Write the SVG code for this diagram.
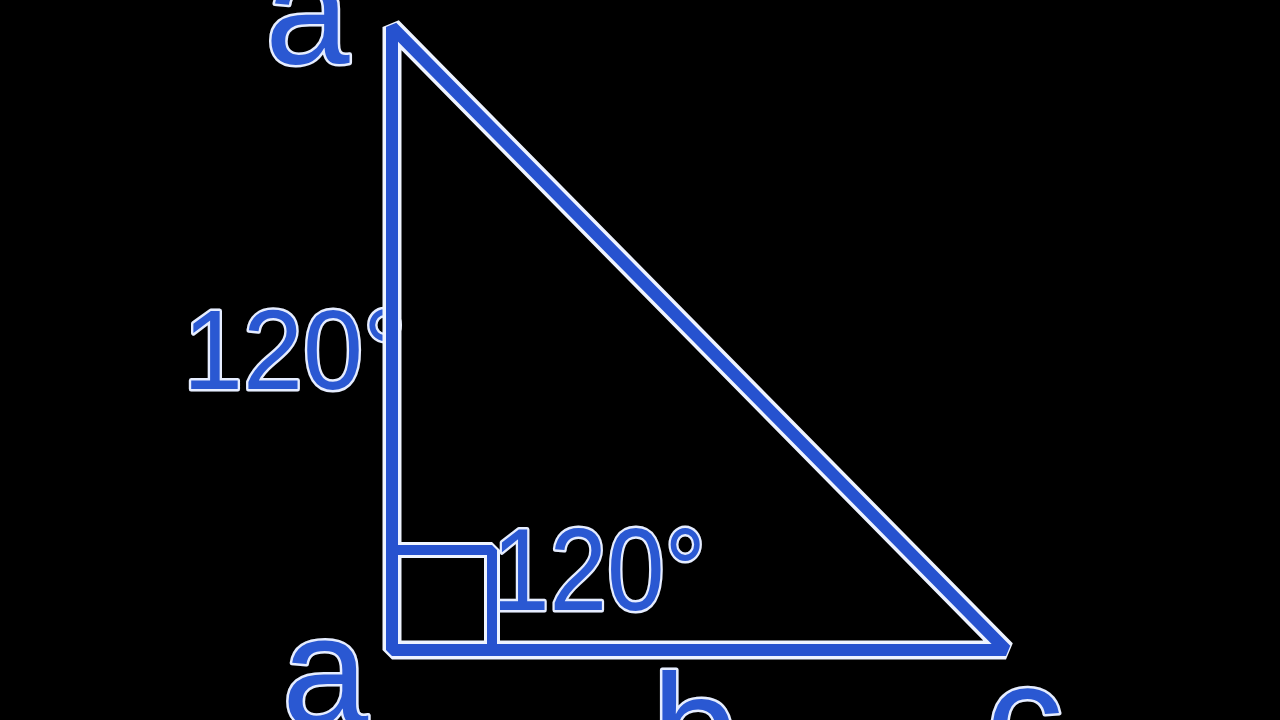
<svg xmlns="http://www.w3.org/2000/svg" width="1280" height="720" viewBox="0 0 1280 720">
<style>
.edge-w{fill:none;stroke:#eef3ff;stroke-linejoin:bevel}
.edge-b{fill:none;stroke:#2652cf;stroke-linejoin:bevel}
.lbl{font-family:"Liberation Sans",Arial,sans-serif;fill:#2a58d2;stroke:#e6edff;stroke-width:5;paint-order:stroke;stroke-linejoin:round}
</style>
<rect x="0" y="0" width="1280" height="720" fill="#000"/>
<g id="label-a-top"><text class="lbl" x="265" y="64" font-size="152">a</text></g>
<g id="label-angle-left"><text class="lbl" x="183" y="389" font-size="114" textLength="223" lengthAdjust="spacingAndGlyphs">120°</text></g>
<g id="label-angle-bottom"><text class="lbl" x="492" y="610" font-size="117" textLength="214" lengthAdjust="spacingAndGlyphs">120°</text></g>
<g id="label-a-bottom"><text class="lbl" x="282" y="724" font-size="155">a</text></g>
<g id="label-b"><text class="lbl" x="652" y="783" font-size="155">b</text></g>
<g id="label-c"><text class="lbl" x="986" y="772" font-size="155">c</text></g>
<g id="triangle">
<polygon class="edge-w" points="392,27 392,650 1006,650" stroke-width="19"/>
<polyline class="edge-w" points="392,550 492,550 492,650" stroke-width="16" stroke-linejoin="miter"/>
<polygon class="edge-b" points="392,27 392,650 1006,650" stroke-width="12"/>
<polyline class="edge-b" points="392,550 492,550 492,650" stroke-width="10" stroke-linejoin="miter"/>
</g>
</svg>
